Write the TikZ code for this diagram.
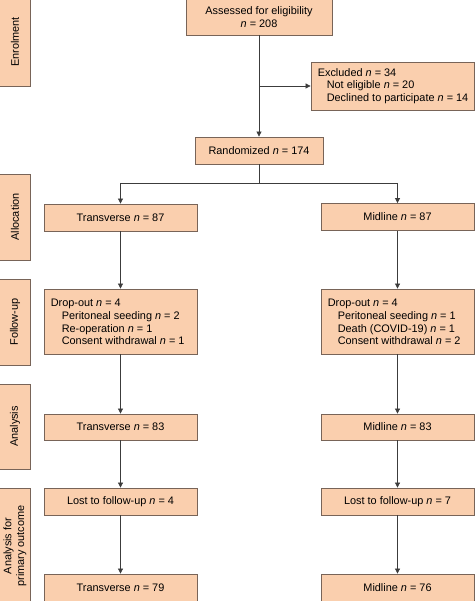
\documentclass[tikz,border=0pt]{standalone}
\usepackage{fontspec}
\setmainfont{Liberation Sans}
\usetikzlibrary{arrows.meta}
\definecolor{boxfill}{RGB}{250,207,174}
\definecolor{boxline}{RGB}{120,100,88}
\definecolor{conn}{RGB}{60,60,60}
\newcommand{\nn}{\textit{n}}
\tikzset{
  fbox/.style={draw=boxline, fill=boxfill, line width=0.8pt, inner sep=0pt, font=\fontsize{10.9}{12.8}\selectfont, align=center},
  ltext/.style={anchor=west, inner sep=0pt, align=left, font=\fontsize{10.9}{12.8}\selectfont},
  sidebox/.style={fbox, minimum width=31pt},
  sidetext/.style={rotate=90, font=\fontsize{10.9}{12.8}\selectfont, align=center},
  conarrow/.style={draw=conn, line width=0.7pt, -{Triangle[length=5pt,width=5pt]}},
  conline/.style={draw=conn, line width=0.7pt}
}
\begin{document}
\begin{tikzpicture}[x=1pt,y=-1pt]
\useasboundingbox (0,0) rectangle (474,601);
% side boxes
\node[sidebox, minimum height=88pt] (s1) at (15,42) {};
\node[sidetext] (s1t) at (s1.center) {Enrolment};
\node[sidebox, minimum height=86pt] (s2) at (15,217) {};
\node[sidetext] (s2t) at (s2.center) {Allocation};
\node[sidebox, minimum height=86pt] (s3) at (15,322) {};
\node[sidetext] (s3t) at (s3.center) {Follow-up};
\node[sidebox, minimum height=85pt] (s4) at (15,426.5) {};
\node[sidetext] (s4t) at (s4.center) {Analysis};
\node[sidebox, minimum height=116pt] (s5) at (15,546) {};
\node[sidetext] (s5t) at (s5.center) {Analysis for\\primary outcome};
% main flow
\node[fbox, minimum width=146pt, minimum height=36pt] (assess) at (259,17) {Assessed for eligibility\\\nn{} = 208};
\node[fbox, minimum width=163pt, minimum height=48pt] (excl) at (392.5,86) {};
\node[ltext] (exclt) at ([xshift=7pt]excl.west) {Excluded \nn{} = 34\\\hspace*{9pt}Not eligible \nn{} = 20\\\hspace*{9pt}Declined to participate \nn{} = 14};
\node[fbox, minimum width=128pt, minimum height=27pt] (rand) at (259,150.5) {Randomized \nn{} = 174};
\coordinate (split) at (259,183);
\coordinate (splitL) at (120.5,183);
\coordinate (splitR) at (397.5,183);
\coordinate (exj) at (259,86);
\node[fbox, minimum width=153pt, minimum height=27pt] (t87) at (120.5,217.5) {Transverse \nn{} = 87};
\node[fbox, minimum width=153pt, minimum height=27pt] (m87) at (397.5,217) {Midline \nn{} = 87};
\node[fbox, minimum width=153pt, minimum height=65pt] (dl) at (120.5,321.5) {};
\node[ltext] (dlt) at ([xshift=7pt,yshift=-0.5pt]dl.west) {Drop-out \nn{} = 4\\\hspace*{11pt}Peritoneal seeding \nn{} = 2\\\hspace*{11pt}Re-operation \nn{} = 1\\\hspace*{11pt}Consent withdrawal \nn{} = 1};
\node[fbox, minimum width=153pt, minimum height=65pt] (dr) at (397.5,321.5) {};
\node[ltext] (drt) at ([xshift=7pt,yshift=-0.5pt]dr.west) {Drop-out \nn{} = 4\\\hspace*{10pt}Peritoneal seeding \nn{} = 1\\\hspace*{10pt}Death (COVID-19) \nn{} = 1\\\hspace*{10pt}Consent withdrawal \nn{} = 2};
\node[fbox, minimum width=153pt, minimum height=26pt] (t83) at (120.5,427) {Transverse \nn{} = 83};
\node[fbox, minimum width=153pt, minimum height=26pt] (m83) at (397.5,427) {Midline \nn{} = 83};
\node[fbox, minimum width=153pt, minimum height=27pt] (ll) at (120.5,501.5) {Lost to follow-up \nn{} = 4};
\node[fbox, minimum width=153pt, minimum height=27pt] (lr) at (397.5,501.5) {Lost to follow-up \nn{} = 7};
\node[fbox, minimum width=153pt, minimum height=28pt] (t79) at (120.5,588) {Transverse \nn{} = 79};
\node[fbox, minimum width=153pt, minimum height=28pt] (m76) at (397.5,588) {Midline \nn{} = 76};
% connectors
\draw[conarrow] (assess.south) -- (rand.north);
\draw[conarrow] (exj) -- (excl.west);
\draw[conline] (rand.south) -- (split);
\draw[conline] (splitL) -- (splitR);
\draw[conarrow] (splitL) -- (t87.north);
\draw[conarrow] (splitR) -- (m87.north);
\draw[conarrow] (t87.south) -- (dl.north);
\draw[conarrow] (m87.south) -- (dr.north);
\draw[conarrow] (dl.south) -- (t83.north);
\draw[conarrow] (dr.south) -- (m83.north);
\draw[conarrow] (t83.south) -- (ll.north);
\draw[conarrow] (m83.south) -- (lr.north);
\draw[conarrow] (ll.south) -- (t79.north);
\draw[conarrow] (lr.south) -- (m76.north);
\end{tikzpicture}
\end{document}
